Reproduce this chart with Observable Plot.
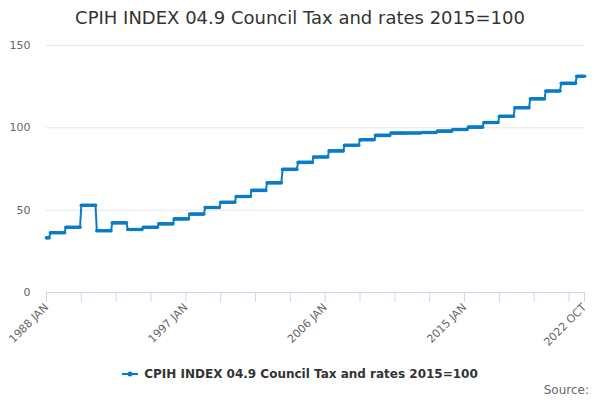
<!DOCTYPE html>
<html>
<head>
<meta charset="utf-8">
<script src="https://cdn.jsdelivr.net/npm/d3@7"></script>
<script src="https://cdn.jsdelivr.net/npm/@observablehq/plot@0.6"></script>
<style>
  html, body { margin: 0; padding: 0; background: #fff; }
  #wrap { position: relative; width: 600px; height: 400px; font-family: "DejaVu Sans", sans-serif; }
  #title { position: absolute; left: 0; top: 0; width: 600px; height: 40px; box-sizing: border-box; padding-top: 7px;
           text-align: center; font-size: 18px; line-height: 22px; color: #333; }
  #chart { position: absolute; left: 0; top: 40px; }
  #legend { position: absolute; left: 0; top: 366px; width: 600px; text-align: center; font-size: 12px; font-weight: bold;
            line-height: 16px; color: #333; white-space: nowrap; }
  #legend svg { vertical-align: middle; margin-right: 6px; position: relative; top: -1px; }
  #source { position: absolute; right: 11px; top: 382px; font-size: 12px; line-height: 16px; color: #666; }
</style>
</head>
<body>
<div id="wrap">
  <div id="title"></div>
  <div id="chart"></div>
  <div id="legend"></div>
  <div id="source">Source:</div>
</div>
<script>
const titleText = "CPIH INDEX 04.9 Council Tax and rates 2015=100";
const seriesName = "CPIH INDEX 04.9 Council Tax and rates 2015=100";
const sourceText = "Source:";

// Index level in force from April of each year (Jan–Mar take the previous year's level)
const levelYears = [1987, 1988, 1989, 1990, 1991, 1992, 1993, 1994, 1995, 1996, 1997, 1998,
  1999, 2000, 2001, 2002, 2003, 2004, 2005, 2006, 2007, 2008, 2009, 2010, 2011, 2012,
  2013, 2014, 2015, 2016, 2017, 2018, 2019, 2020, 2021, 2022];
const levels = [33.2, 36.3, 39.6, 53.0, 37.5, 42.3, 38.3, 39.6, 41.7, 44.7, 47.6, 51.6,
  54.8, 58.3, 62.0, 66.6, 74.8, 79.0, 82.3, 86.0, 89.4, 92.8, 95.4, 96.8, 96.9, 97.2,
  98.0, 99.0, 100.4, 103.2, 107.0, 112.2, 117.6, 122.4, 127.0, 131.3];

const monthNames = ["JAN","FEB","MAR","APR","MAY","JUN","JUL","AUG","SEP","OCT","NOV","DEC"];
const startYear = 1988;
const nMonths = (2022 - 1988) * 12 + 9 + 1; // 1988 JAN .. 2022 OCT

const labelOf = i => `${startYear + Math.floor(i / 12)} ${monthNames[i % 12]}`;

const data = d3.range(nMonths).map(i => {
  const y = startYear + Math.floor(i / 12), m = i % 12;
  const fy = m >= 3 ? y : y - 1;
  return {i, label: labelOf(i), value: levels[levelYears.indexOf(fy)]};
});

const xTicks = d3.range(0, nMonths - 12, 27).concat([nMonths - 1]);
const xLabelled = new Set([0, 108, 216, 324, nMonths - 1]);
const yTicks = [0, 50, 100, 150];
const color = "#0a7cc4";

document.getElementById("title").textContent = titleText;

const plot = Plot.plot({
  width: 600,
  height: 320,
  marginTop: 5,
  marginBottom: 68,
  marginLeft: 46,
  marginRight: 16,
  style: {fontFamily: "DejaVu Sans, sans-serif", fontSize: "11px", background: "#fff"},
  x: {type: "linear", domain: [0, nMonths - 1], label: null},
  y: {domain: [0, 150], label: null},
  marks: [
    Plot.gridY([50, 100, 150], {stroke: "#e6e6e6", strokeOpacity: 1}),
    Plot.axisY(yTicks, {tickSize: 0, tickPadding: 16, fill: "#666", fontSize: 11, label: null}),
    Plot.axisX(xTicks, {
      tickSize: 10, stroke: "#ccd6eb", strokeOpacity: 1, fill: "#666", fontSize: 11,
      tickRotate: -45, tickPadding: 3, label: null,
      tickFormat: d => xLabelled.has(d) ? labelOf(d) : ""
    }),
    Plot.ruleY([0], {stroke: "#ccd6eb"}),
    Plot.line(data, {x: "i", y: "value", stroke: color, strokeWidth: 2}),
    Plot.dot(data, {x: "i", y: "value", r: 1.8, fill: color})
  ]
});
document.getElementById("chart").appendChild(plot);

document.getElementById("legend").innerHTML =
  `<svg width="16" height="10"><line x1="0" x2="16" y1="5" y2="5" stroke="${color}" stroke-width="2"/>` +
  `<circle cx="8" cy="5" r="2.5" fill="${color}"/></svg>` + seriesName;
document.getElementById("source").textContent = sourceText;
</script>
</body>
</html>
